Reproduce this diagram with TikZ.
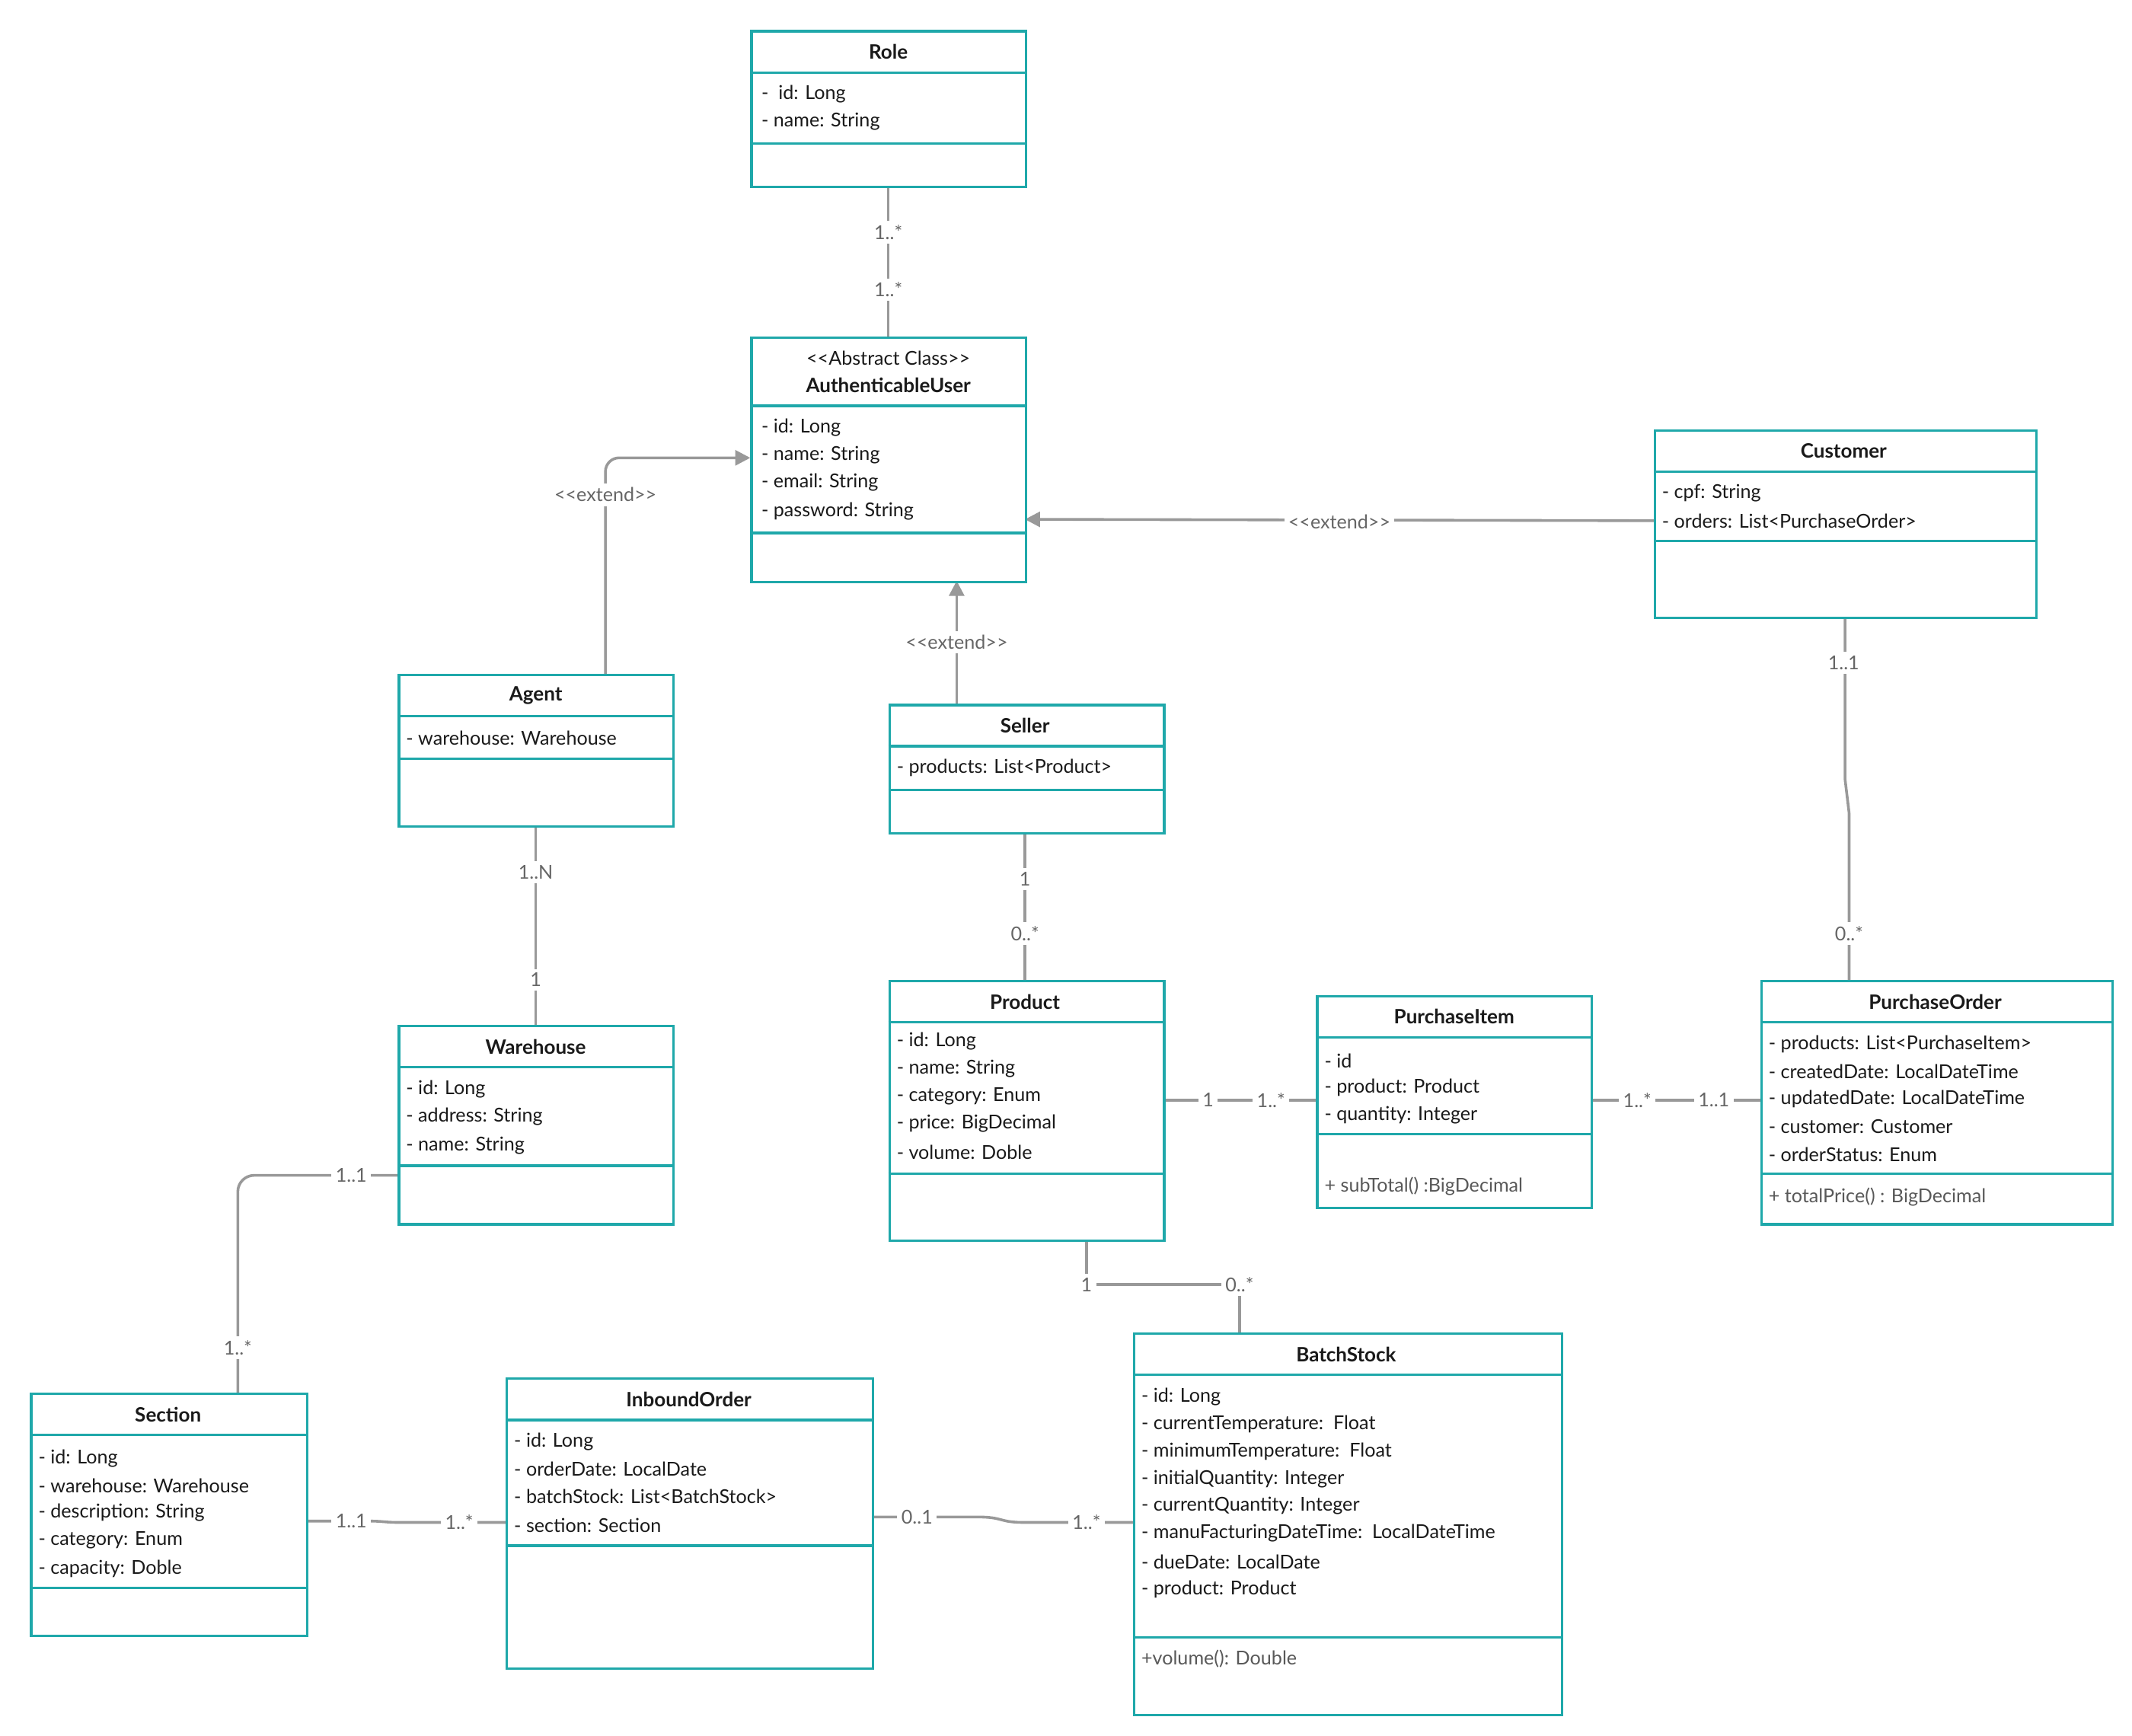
\documentclass[tikz,border=0pt]{standalone}
\usepackage{fontspec}
\setmainfont{Lato}
\usetikzlibrary{arrows.meta}
\definecolor{tl}{HTML}{1FA8AA}
\definecolor{ln}{HTML}{999999}
\definecolor{tx}{HTML}{1A1A1A}
\begin{document}
\begin{tikzpicture}[x=1pt,y=-1pt,
  box/.style={draw=tl,line width=1.8pt,fill=white,anchor=north west,inner sep=0pt},
  dv/.style={draw=tl,line width=1.8pt},
  ttl/.style={font=\fontsize{14.5}{17}\selectfont\bfseries,text=tx,inner sep=0pt},
  att/.style={font=\fontsize{14}{17}\selectfont,text=tx,anchor=west,inner sep=0pt},
  mth/.style={font=\fontsize{14}{17}\selectfont,text=black!65,anchor=west,inner sep=0pt},
  con/.style={draw=ln,line width=2pt},
  arr/.style={con,-{Triangle[length=11pt,width=11pt]}},
  lab/.style={font=\fontsize{14}{17}\selectfont,text=black!60,fill=white,inner sep=3pt}]
\useasboundingbox (0,0) rectangle (1560,1270);
\fill[white] (0,0) rectangle (1560,1270);

% connectors first
\coordinate (r1) at (650,136); \coordinate (r2) at (650,246);
\draw[con] (r1)--(r2);
\node[lab] (l1) at (650,170) {1..*};
\node[lab] (l2) at (650,212) {1..*};

\coordinate (ag1) at (443,493); \coordinate (au1) at (549,335);
\draw[arr,rounded corners=10pt] (ag1)--(443,335)--(au1);
\node[lab] (l3) at (443,362) {<{}<extend>{}>};

\coordinate (se1) at (700,515); \coordinate (au2) at (700,425);
\draw[arr] (se1)--(au2);
\node[lab] (l4) at (700,470) {<{}<extend>{}>};

\coordinate (cu1) at (1210,381); \coordinate (au3) at (750,380);
\draw[arr] (cu1)--(au3);
\node[lab] (l5) at (980,382) {<{}<extend>{}>};

\coordinate (cu2) at (1350,451); \coordinate (po1) at (1353,717);
\draw[con] (cu2)--(1350,570)--(1353,595)--(po1);
\node[lab] (l6) at (1349,485) {1..1};
\node[lab] (l7) at (1353,683) {0..*};

\coordinate (ag2) at (392,604); \coordinate (wh1) at (392,750);
\draw[con] (ag2)--(wh1);
\node[lab] (l8) at (392,638) {1..N};
\node[lab] (l9) at (392,717) {1};

\coordinate (se2) at (750,609); \coordinate (pr1) at (750,717);
\draw[con] (se2)--(pr1);
\node[lab] (l10) at (750,643) {1};
\node[lab] (l11) at (750,683) {0..*};

\coordinate (pr2) at (851,805); \coordinate (pi1) at (963,805);
\draw[con] (pr2)--(pi1);
\node[lab] (l12) at (884,805) {1};
\node[lab] (l13) at (930,805) {1..*};

\coordinate (pi2) at (1164,805); \coordinate (po2) at (1288,805);
\draw[con] (pi2)--(po2);
\node[lab] (l14) at (1198,805) {1..*};
\node[lab] (l15) at (1254,805) {1..1};

\coordinate (pr3) at (795,907); \coordinate (bs1) at (907,975);
\draw[con] (pr3)--(795,940)--(907,940)--(bs1);
\node[lab] (l16) at (795,940) {1};
\node[lab] (l17) at (907,940) {0..*};

\coordinate (wh2) at (291,860); \coordinate (sc1) at (174,1019);
\draw[con,rounded corners=12pt] (wh2)--(174,860)--(sc1);
\node[lab] (l18) at (257,860) {1..1};
\node[lab] (l19) at (174,986) {1..*};

\coordinate (sc2) at (224,1113); \coordinate (io1) at (370,1114);
\draw[con] (sc2)--(270,1113) .. controls (280,1113) and (282,1114) .. (292,1114)--(io1);
\node[lab] (l20) at (257,1113) {1..1};
\node[lab] (l21) at (336,1114) {1..*};

\coordinate (io2) at (638,1110); \coordinate (bs2) at (829,1114);
\draw[con] (io2)--(715,1110) .. controls (735,1110) and (730,1114) .. (750,1114)--(bs2);
\node[lab] (l22) at (671,1110) {0..1};
\node[lab] (l23) at (795,1114) {1..*};

% Role
\node[box,minimum width=201pt,minimum height=114pt] (role) at (549,22) {};
\draw[dv] (549,53)--(750,53) (549,105)--(750,105);
\node[ttl] (roleT) at (650,38) {Role};
\node[att] (roleA1) at (557,69) {-\ \ id: Long};
\node[att] (roleA2) at (557,89) {- name: String};

% AuthenticableUser
\node[box,minimum width=201pt,minimum height=179pt] (au) at (549,246) {};
\draw[dv] (549,297)--(750,297) (549,390)--(750,390);
\node[att,anchor=center] (auS) at (650,262) {<{}<Abstract Class>{}>};
\node[ttl] (auT) at (650,282) {AuthenticableUser};
\node[att] (auA1) at (557,313) {- id: Long};
\node[att] (auA2) at (557,333) {- name: String};
\node[att] (auA3) at (557,353) {- email: String};
\node[att] (auA4) at (557,374) {- password: String};

% Customer
\node[box,minimum width=279pt,minimum height=137pt] (cu) at (1210,314) {};
\draw[dv] (1210,345)--(1489,345) (1210,396)--(1489,396);
\node[ttl] (cuT) at (1349,330) {Customer};
\node[att] (cuA1) at (1216,361) {- cpf: String};
\node[att] (cuA2) at (1216,381) {- orders: List<PurchaseOrder>};

% Agent
\node[box,minimum width=201pt,minimum height=111pt] (ag) at (291,493) {};
\draw[dv] (291,524)--(492,524) (291,555)--(492,555);
\node[ttl] (agT) at (392,509) {Agent};
\node[att] (agA1) at (297,540) {- warehouse: Warehouse};

% Seller
\node[box,minimum width=201pt,minimum height=94pt] (se) at (650,515) {};
\draw[dv] (650,546)--(851,546) (650,578)--(851,578);
\node[ttl] (seT) at (750,531) {Seller};
\node[att] (seA1) at (656,562) {- products: List<Product>};

% Warehouse
\node[box,minimum width=201pt,minimum height=145pt] (wh) at (291,750) {};
\draw[dv] (291,781)--(492,781) (291,853)--(492,853);
\node[ttl] (whT) at (392,766) {Warehouse};
\node[att] (whA1) at (297,797) {- id: Long};
\node[att] (whA2) at (297,817) {- address: String};
\node[att] (whA3) at (297,838) {- name: String};

% Product
\node[box,minimum width=201pt,minimum height=190pt] (pr) at (650,717) {};
\draw[dv] (650,748)--(851,748) (650,859)--(851,859);
\node[ttl] (prT) at (750,733) {Product};
\node[att] (prA1) at (656,762) {- id: Long};
\node[att] (prA2) at (656,782) {- name: String};
\node[att] (prA3) at (656,802) {- category: Enum};
\node[att] (prA4) at (656,822) {- price: BigDecimal};
\node[att] (prA5) at (656,843) {- volume: Doble};

% PurchaseItem
\node[box,minimum width=201pt,minimum height=155pt] (pi) at (963,728) {};
\draw[dv] (963,759)--(1164,759) (963,830)--(1164,830);
\node[ttl] (piT) at (1064,744) {PurchaseItem};
\node[att] (piA1) at (969,776) {- id};
\node[att] (piA2) at (969,796) {- product: Product};
\node[att] (piA3) at (969,816) {- quantity: Integer};
\node[mth] (piM1) at (969,868) {+ subTotal() :BigDecimal};

% PurchaseOrder
\node[box,minimum width=257pt,minimum height=178pt] (po) at (1288,717) {};
\draw[dv] (1288,748)--(1545,748) (1288,859)--(1545,859);
\node[ttl] (poT) at (1416,733) {PurchaseOrder};
\node[att] (poA1) at (1294,764) {- products: List<PurchaseItem>};
\node[att] (poA2) at (1294,784) {- createdDate: LocalDateTime};
\node[att] (poA3) at (1294,804) {- updatedDate: LocalDateTime};
\node[att] (poA4) at (1294,824) {- customer: Customer};
\node[att] (poA5) at (1294,845) {- orderStatus: Enum};
\node[mth] (poM1) at (1294,876) {+ totalPrice() : BigDecimal};

% Section
\node[box,minimum width=202pt,minimum height=177pt] (sc) at (22,1019) {};
\draw[dv] (22,1050)--(224,1050) (22,1162)--(224,1162);
\node[ttl] (scT) at (123,1035) {Section};
\node[att] (scA1) at (28,1067) {- id: Long};
\node[att] (scA2) at (28,1087) {- warehouse: Warehouse};
\node[att] (scA3) at (28,1107) {- description: String};
\node[att] (scA4) at (28,1127) {- category: Enum};
\node[att] (scA5) at (28,1148) {- capacity: Doble};

% InboundOrder
\node[box,minimum width=268pt,minimum height=212pt] (io) at (370,1008) {};
\draw[dv] (370,1039)--(638,1039) (370,1131)--(638,1131);
\node[ttl] (ioT) at (504,1024) {InboundOrder};
\node[att] (ioA1) at (376,1055) {- id: Long};
\node[att] (ioA2) at (376,1075) {- orderDate: LocalDate};
\node[att] (ioA3) at (376,1095) {- batchStock: List<BatchStock>};
\node[att] (ioA4) at (376,1116) {- section: Section};

% BatchStock
\node[box,minimum width=313pt,minimum height=279pt] (bs) at (829,975) {};
\draw[dv] (829,1006)--(1142,1006) (829,1198)--(1142,1198);
\node[ttl] (bsT) at (985,991) {BatchStock};
\node[att] (bsA1) at (835,1022) {- id: Long};
\node[att] (bsA2) at (835,1042) {- currentTemperature:\ \ Float};
\node[att] (bsA3) at (835,1062) {- minimumTemperature:\ \ Float};
\node[att] (bsA4) at (835,1082) {- initialQuantity: Integer};
\node[att] (bsA5) at (835,1102) {- currentQuantity: Integer};
\node[att] (bsA6) at (835,1122) {- manuFacturingDateTime:\ \ LocalDateTime};
\node[att] (bsA7) at (835,1143) {- dueDate: LocalDate};
\node[att] (bsA8) at (835,1163) {- product: Product};
\node[mth] (bsM1) at (835,1214) {+volume(): Double};
\end{tikzpicture}
\end{document}
